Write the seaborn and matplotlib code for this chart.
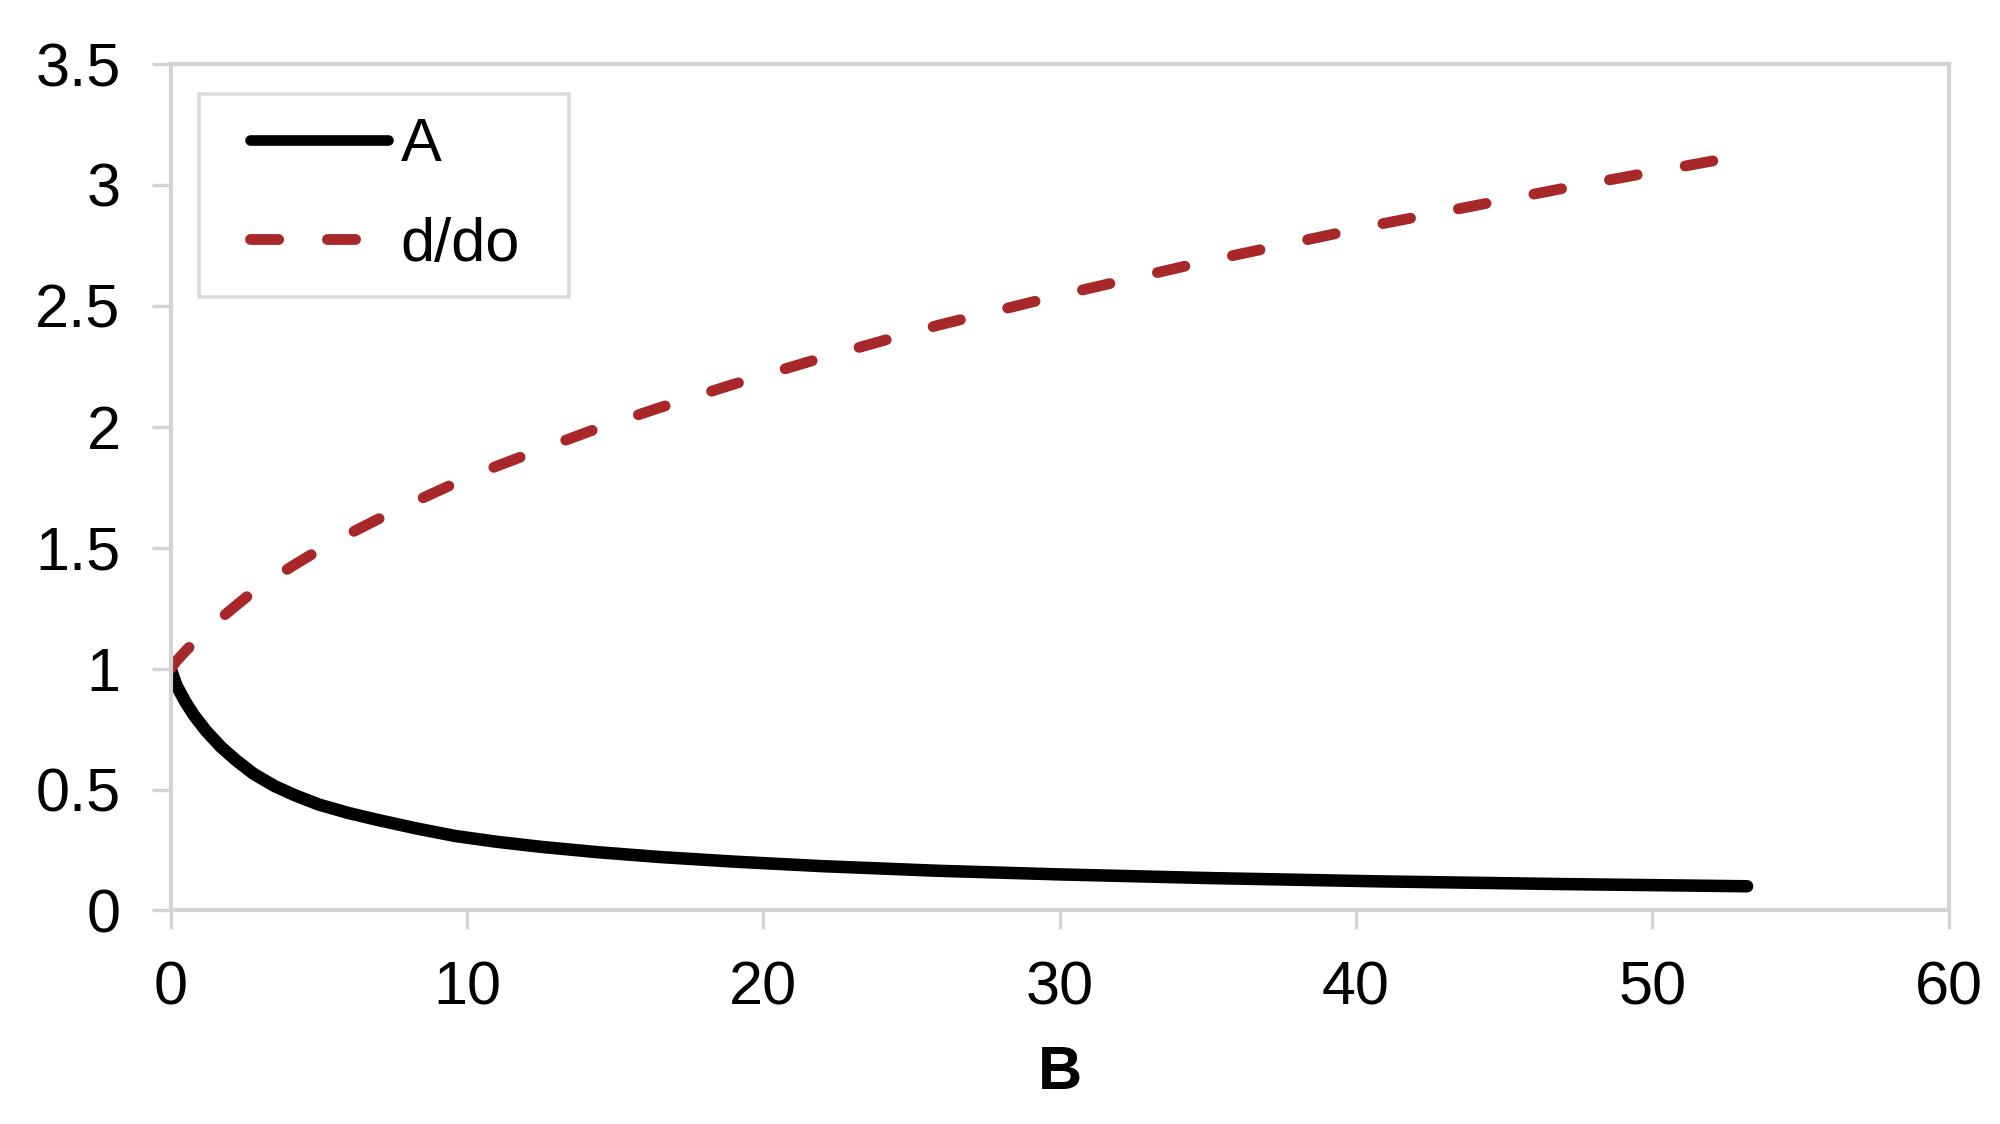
import matplotlib
matplotlib.use("Agg")
import matplotlib.pyplot as plt
import seaborn as sns
import pandas as pd
from matplotlib.lines import Line2D
from matplotlib.legend_handler import HandlerLine2D

# ---- data ----
b_A = [0, 0.2, 0.5, 0.8, 1.2, 1.7, 2.2, 2.8, 3.5, 4.2, 5, 6, 7, 8.3, 9.6, 11, 12.5,
       14.4, 16.5, 19, 22, 25.9, 30, 35, 40.9, 47, 53.2]
val_A = [1.0, 0.93, 0.862, 0.805, 0.742, 0.676, 0.622, 0.565, 0.515, 0.476, 0.438,
         0.403, 0.374, 0.339, 0.308, 0.284, 0.263, 0.241, 0.221, 0.202, 0.183, 0.164,
         0.149, 0.134, 0.120, 0.109, 0.100]

b_D = [0, 0.2, 0.5, 0.8, 1.2, 1.7, 2.2, 2.8, 3.5, 4.2, 5, 6, 7, 8.3, 9.6, 11, 12.5,
       14.4, 16.5, 19, 22, 25.9, 30, 35, 40.9, 47, 53.4]
val_D = [1.0, 1.032, 1.072, 1.11, 1.155, 1.209, 1.26, 1.32, 1.377, 1.431, 1.49, 1.556,
         1.618, 1.694, 1.767, 1.837, 1.907, 1.993, 2.079, 2.176, 2.286, 2.42, 2.544,
         2.686, 2.84, 2.986, 3.13]

series_names = ["A", "d/do"]
x_ticks = [0, 10, 20, 30, 40, 50, 60]
y_ticks = [0, 0.5, 1, 1.5, 2, 2.5, 3, 3.5]
y_tick_labels = ["0", "0.5", "1", "1.5", "2", "2.5", "3", "3.5"]
x_label = "B"

df = pd.concat([
    pd.DataFrame({"B": b_A, "value": val_A, "series": series_names[0]}),
    pd.DataFrame({"B": b_D, "value": val_D, "series": series_names[1]}),
], ignore_index=True)

# ---- style ----
sns.set_theme(style="white")
plt.rcParams["font.family"] = ["Liberation Sans", "DejaVu Sans"]
plt.rcParams["text.color"] = "black"
plt.rcParams["axes.labelcolor"] = "black"

RED = "#A8282A"
GRAY = "#D3D3D3"
LW_A = 4.5
LW_D = 3.9
DASH = (2.6, 4.5)
FS = 22

fig = plt.figure(figsize=(10, 5.62), dpi=200)
ax = fig.add_axes([0.0853, 0.19, 0.889, 0.753])

sns.lineplot(data=df, x="B", y="value", hue="series", style="series",
             palette={"A": "black", "d/do": RED},
             dashes={"A": "", "d/do": DASH},
             estimator=None, sort=False, linewidth=LW_A, ax=ax, legend=False)

for ln in ax.get_lines():
    ln.set_dash_capstyle("round")
    ln.set_solid_capstyle("round")
    ln.set_solid_joinstyle("round")
    if str(ln.get_color()).lower() not in ("black", "#000000"):
        ln.set_linewidth(LW_D)
        ln.set_dashes(DASH)

ax.set_xlim(0, 60)
ax.set_ylim(0, 3.5)
ax.set_xticks(x_ticks)
ax.set_yticks(y_ticks)
ax.set_yticklabels(y_tick_labels)
ax.tick_params(axis="both", which="both", direction="out", length=7, width=1.2,
               color=GRAY, labelsize=FS, labelcolor="black", pad=11,
               bottom=True, left=True)
for s in ax.spines.values():
    s.set_visible(True)
    s.set_color(GRAY)
    s.set_linewidth(1.5)

ax.set_xlabel(x_label, fontsize=FS, fontweight="bold", labelpad=10, color="black")
ax.set_ylabel("")

handles = [
    Line2D([0], [0], color="black", lw=LW_A * 0.85, solid_capstyle="round"),
    Line2D([0], [0], color=RED, lw=LW_D, dashes=DASH, dash_capstyle="round"),
]
hmap = {h: HandlerLine2D(xpad=0.45) for h in handles}
leg = ax.legend(handles, series_names, loc="upper left",
                bbox_to_anchor=(0.0159, 0.0, 0.2084, 0.965), mode="expand",
                fontsize=FS, frameon=True, fancybox=False, edgecolor=GRAY,
                handlelength=2.72, handletextpad=0.2, labelspacing=0.7,
                borderpad=0.38, borderaxespad=0.0, handler_map=hmap)
leg.get_frame().set_linewidth(1.3)
for t in leg.get_texts():
    t.set_color("black")

fig.savefig("out.png", dpi=200, facecolor="white")
